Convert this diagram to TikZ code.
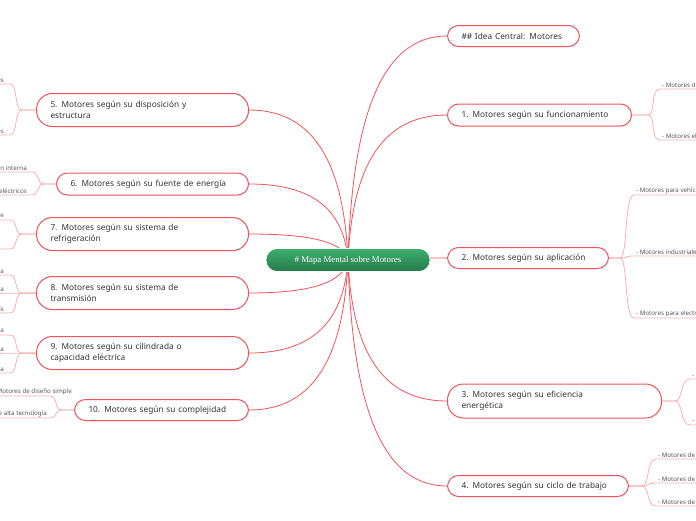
\documentclass[tikz,border=0pt]{standalone}
\usepackage{fontspec}
\setmainfont{Noto Sans}
\newfontfamily\serifc{Liberation Serif}
\definecolor{bred}{HTML}{F0525A}
\definecolor{lpink}{HTML}{F8B0B3}
\definecolor{tgray}{HTML}{333333}
\definecolor{lgray}{HTML}{555555}
\definecolor{gtop}{HTML}{3DAE6E}
\definecolor{gbot}{HTML}{267A4B}
\begin{document}
\begin{tikzpicture}[x=1pt,y=-1pt,
  box/.style={draw=bred,line width=1pt,fill=white,rounded corners=11pt,inner xsep=14pt,inner ysep=0pt,align=left,text=tgray,font=\fontsize{8.3}{11}\selectfont},
  box2/.style={box,rounded corners=16pt},
  conn/.style={draw=bred,line width=0.8pt},
  leaf/.style={draw=lpink,line width=0.8pt},
  lt/.style={inner sep=1pt,text=lgray,font=\fontsize{6.2}{7}\selectfont}]
\useasboundingbox (0,0) rectangle (696,520);
\clip (0,0) rectangle (696,520);
% connectors from center
\coordinate (c) at (348,260);
\draw[conn] (c) .. controls (352,126) and (378,36) .. (447,36);
\draw[conn] (c) .. controls (352,173) and (378,115) .. (447,115);
\draw[conn] (c) .. controls (352,259) and (378,258) .. (447,258);
\draw[conn] (c) .. controls (352,345) and (378,401) .. (447,401);
\draw[conn] (c) .. controls (352,396) and (378,486) .. (447,486);
\draw[conn] (c) .. controls (344,170) and (318,110) .. (249,110);
\draw[conn] (c) .. controls (344,214) and (318,184) .. (249,184);
\draw[conn] (c) .. controls (344,244) and (318,234) .. (249,234);
\draw[conn] (c) .. controls (344,280) and (318,293) .. (249,293);
\draw[conn] (c) .. controls (344,316) and (318,353) .. (249,353);
\draw[conn] (c) .. controls (344,350) and (318,410) .. (249,410);
% center
\node[rounded corners=11pt,top color=gtop,bottom color=gbot,draw=white,line width=0.8pt,minimum width=164pt,minimum height=23pt,text=white,font=\serifc\fontsize{8.8}{10}\selectfont] (center) at (348,260) {\# Mapa Mental sobre Motores};
% right nodes
\node[box,anchor=west,text width=104pt,minimum height=21pt] (n0) at (447,36) {\#\# Idea Central: Motores};
\node[box,anchor=west,text width=156pt,minimum height=22pt] (n1) at (447,115) {1. Motores según su funcionamiento};
\node[box,anchor=west,text width=133pt,minimum height=21pt] (n2) at (447,258) {2. Motores según su aplicación};
\node[box2,anchor=west,text width=186pt,minimum height=34pt] (n3) at (447,401) {3. Motores según su eficiencia\\energética};
\node[box,anchor=west,text width=153pt,minimum height=21pt] (n4) at (447,486) {4. Motores según su ciclo de trabajo};
% left nodes
\node[box2,anchor=east,text width=184pt,minimum height=33pt] (n5) at (249,110) {5. Motores según su disposición y\\estructura};
\node[box,anchor=east,text width=164pt,minimum height=22pt] (n6) at (249,184) {6. Motores según su fuente de energía};
\node[box2,anchor=east,text width=184pt,minimum height=33pt] (n7) at (249,234) {7. Motores según su sistema de\\refrigeración};
\node[box2,anchor=east,text width=184pt,minimum height=33pt] (n8) at (249,293) {8. Motores según su sistema de\\transmisión};
\node[box2,anchor=east,text width=184pt,minimum height=33pt] (n9) at (249,353) {9. Motores según su cilindrada o\\capacidad eléctrica};
\node[box,anchor=east,text width=146pt,minimum height=21pt] (n10) at (249,410) {10. Motores según su complejidad};
% right leaves
\foreach \y/\t in {89/- Motores de combustión interna,140/- Motores eléctricos}{
  \draw[leaf] (n1.east) -- (648,115) .. controls (656,115) and (650,\y) .. (660,\y) -- (700,\y);
  \node[lt,anchor=south west] at (661,\y) {\t};}
\foreach \y/\t in {195/- Motores para vehículos,256/- Motores industriales,318/- Motores para electrodomésticos}{
  \draw[leaf] (n2.east) -- (620,258) .. controls (628,258) and (624,\y) .. (634,\y) -- (700,\y);
  \node[lt,anchor=south west] at (635,\y) {\t};}
\foreach \y/\t in {379/- Motores de alta eficiencia,425/- Motores de baja eficiencia}{
  \draw[leaf] (n3.east) -- (675,401) .. controls (683,401) and (680,\y) .. (690,\y) -- (700,\y);
  \node[lt,anchor=south west] at (691,\y) {\t};}
\foreach \y/\t in {459/- Motores de ciclo continuo,483/- Motores de ciclo intermitente,506/- Motores de ciclo variable}{
  \draw[leaf] (n4.east) -- (642,486) .. controls (650,486) and (646,\y) .. (656,\y) -- (700,\y);
  \node[lt,anchor=south west] at (657,\y) {\t};}
% left leaves
\foreach \y/\t in {84/- Motores horizontales,135/- Motores verticales}{
  \draw[leaf] (n5.west) -- (22,110) .. controls (14,110) and (18,\y) .. (10,\y) -- (-5,\y);
  \node[lt,anchor=south east] at (5,\y) {\t};}
\foreach \y/\t in {172/- Motores de combustión interna,195/- Motores eléctricos}{
  \draw[leaf] (n6.west) -- (44,184) .. controls (36,184) and (40,\y) .. (32,\y) -- (-5,\y);
  \node[lt,anchor=south east] at (28,\y) {\t};}
\foreach \y/\t in {220/- Motores con refrigeración por aire,249/{}}{
  \draw[leaf] (n7.west) -- (22,234) .. controls (14,234) and (18,\y) .. (10,\y) -- (-5,\y);
  \node[lt,anchor=south east] at (5,\y) {\t};}
\foreach \y/\t in {275/- Transmisión directa,293/- Transmisión mecánica,313/- Transmisiones automáticas}{
  \draw[leaf] (n8.west) -- (22,293) .. controls (14,293) and (18,\y) .. (10,\y) -- (-5,\y);
  \node[lt,anchor=south east] at (5,\y) {\t};}
\foreach \y/\t in {335/- Cilindrada pequeña,353/- Cilindrada media,373/- Cilindrada alta}{
  \draw[leaf] (n9.west) -- (22,353) .. controls (14,353) and (18,\y) .. (10,\y) -- (-5,\y);
  \node[lt,anchor=south east] at (5,\y) {\t};}
\foreach \y/\xx/\t in {396/73/- Motores de diseño simple,418/48/- Motores de alta tecnología}{
  \draw[leaf] (n10.west) -- (62,410) .. controls (54,410) and (58,\y) .. (50,\y) -- (-5,\y);
  \node[lt,anchor=south east] at (\xx,\y) {\t};}
\end{tikzpicture}
\end{document}
